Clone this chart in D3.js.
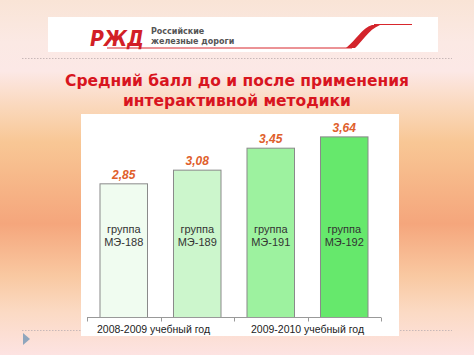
<!DOCTYPE html>
<html>
<head>
<meta charset="utf-8">
<script src="https://cdn.jsdelivr.net/npm/d3@7"></script>
<style>
  html, body { margin: 0; padding: 0; overflow: hidden; }
  svg { display: block; }
</style>
</head>
<body>
<script>
// ---- data ----
const categories = ["МЭ-188", "МЭ-189", "МЭ-191", "МЭ-192"];
const groupWord = "группа";
const values = [2.85, 3.08, 3.45, 3.64];
const years = ["2008-2009 учебный год", "2009-2010 учебный год"];
const titleLines = ["Средний балл до и после применения", "интерактивной методики"];
const headerLines = ["Российские", "железные дороги"];
const logoText = "РЖД";

// ---- styles ----
const barColors = ["#f0fcf0", "#ccf6cc", "#9df29f", "#66e86c"];
const W = 474, H = 355;

const svg = d3.select("body").append("svg").attr("width", W).attr("height", H);
const defs = svg.append("defs");

// background gradient
const bg = defs.append("linearGradient").attr("id", "bg").attr("x1", 0).attr("y1", 0).attr("x2", 0).attr("y2", 1);
[[0, "#f9e4d6"], [0.12, "#fbe9e4"], [0.2, "#fce8e6"], [0.3, "#fad8bc"], [0.4, "#f8c795"],
 [0.55, "#f6b184"], [0.63, "#f5a67c"], [0.78, "#f9c9a2"], [0.88, "#fbdac4"], [1, "#fde3e2"]]
  .forEach(([o, c]) => bg.append("stop").attr("offset", o).attr("stop-color", c));
svg.append("rect").attr("width", W).attr("height", H).attr("fill", "url(#bg)");

// dotted separator lines
[58, 330].forEach(y => svg.append("line")
  .attr("x1", 22).attr("x2", 452).attr("y1", y + 0.5).attr("y2", y + 0.5)
  .attr("stroke", "#c8b8b8").attr("stroke-width", 1).attr("stroke-dasharray", "1.5,1.5"));

// small triangle bullet
svg.append("path").attr("d", "M23,333 L30,339 L23,345 Z").attr("fill", "#8fa6bd");

// header white box
svg.append("rect").attr("x", 48).attr("y", 17).attr("width", 390).attr("height", 35).attr("fill", "#ffffff");
// red line + swoosh
svg.append("line").attr("x1", 107).attr("x2", 352).attr("y1", 48).attr("y2", 48)
  .attr("stroke", "#d8262c").attr("stroke-width", 1);
svg.append("path")
  .attr("d", "M346,48 C356,40 362,28 372,25 L380,25 C368,30 362,42 355,48 Z")
  .attr("fill", "#d3242b");
svg.append("line").attr("x1", 374).attr("x2", 412).attr("y1", 24.5).attr("y2", 24.5)
  .attr("stroke", "#d8262c").attr("stroke-width", 1);
// logo
svg.append("text").attr("x", 90).attr("y", 46)
  .attr("font-family", "DejaVu Sans").attr("font-weight", "bold").attr("font-style", "italic")
  .attr("font-size", 21).attr("fill", "#d21f27")
  .attr("textLength", 54).attr("lengthAdjust", "spacingAndGlyphs").text(logoText);
svg.selectAll("text.hdr").data(headerLines).join("text").attr("class", "hdr")
  .attr("x", 151).attr("y", (d, i) => 34 + i * 10)
  .attr("font-family", "DejaVu Sans").attr("font-weight", "bold").attr("font-size", 8)
  .attr("fill", "#555").text(d => d);

// title
svg.selectAll("text.title").data(titleLines).join("text").attr("class", "title")
  .attr("x", 237).attr("y", (d, i) => 86 + i * 20)
  .attr("text-anchor", "middle")
  .attr("font-family", "DejaVu Sans").attr("font-weight", "bold").attr("font-size", 15.5)
  .attr("fill", "#d8151f").text(d => d);

// chart panel
svg.append("rect").attr("x", 81).attr("y", 114).attr("width", 318).attr("height", 222).attr("fill", "#ffffff");

// scales
const x = d3.scaleBand().domain(categories).range([87, 381]).paddingInner(0.34).paddingOuter(0.17);
const y = d3.scaleLinear().domain([0.6, 4]).range([317, 115]);
const fmt = d3.formatLocale({ decimal: ",", thousands: " ", grouping: [3], currency: ["", ""] }).format(".2f");

const g = svg.append("g");
g.selectAll("rect.bar").data(values).join("rect").attr("class", "bar")
  .attr("x", (d, i) => x(categories[i]) + 0.5)
  .attr("y", d => y(d) + 0.5)
  .attr("width", x.bandwidth() - 1)
  .attr("height", d => y.range()[0] - y(d))
  .attr("fill", (d, i) => barColors[i])
  .attr("stroke", "#8a8a8a").attr("stroke-width", 1);

// value labels
g.selectAll("text.val").data(values).join("text").attr("class", "val")
  .attr("x", (d, i) => x(categories[i]) + x.bandwidth() / 2)
  .attr("y", d => y(d) - 4.5)
  .attr("text-anchor", "middle")
  .attr("font-family", "Liberation Sans, Arial").attr("font-weight", "bold").attr("font-style", "italic")
  .attr("font-size", 12).attr("fill", "#e0602c").text(d => fmt(d));

// category labels inside bars
g.selectAll("text.cat1").data(categories).join("text").attr("class", "cat1")
  .attr("x", d => x(d) + x.bandwidth() / 2).attr("y", 233)
  .attr("text-anchor", "middle").attr("font-family", "Liberation Sans, Arial").attr("font-size", 11)
  .attr("fill", "#333").text(groupWord);
g.selectAll("text.cat2").data(categories).join("text").attr("class", "cat2")
  .attr("x", d => x(d) + x.bandwidth() / 2).attr("y", 246)
  .attr("text-anchor", "middle").attr("font-family", "Liberation Sans, Arial").attr("font-size", 11)
  .attr("fill", "#333").text(d => d);

// axis line and ticks
const y0 = y.range()[0] + 0.5;
const step = x.step();
const tickXs = d3.range(categories.length + 1).map(i => x.range()[0] + i * step);
g.append("line").attr("x1", tickXs[0]).attr("x2", tickXs[tickXs.length - 1])
  .attr("y1", y0).attr("y2", y0).attr("stroke", "#999").attr("stroke-width", 1);
g.selectAll("line.tick").data(tickXs).join("line").attr("class", "tick")
  .attr("x1", d => Math.round(d) + 0.5).attr("x2", d => Math.round(d) + 0.5)
  .attr("y1", y0).attr("y2", y0 + 4).attr("stroke", "#999");

// year labels
g.selectAll("text.year").data(years).join("text").attr("class", "year")
  .attr("x", (d, i) => (tickXs[i * 2] + tickXs[i * 2 + 2]) / 2 - (i === 0 ? 7 : 0))
  .attr("y", 333)
  .attr("text-anchor", "middle").attr("font-family", "Liberation Sans, Arial").attr("font-size", 10.5)
  .attr("fill", "#222").text(d => d);
</script>
</body>
</html>
